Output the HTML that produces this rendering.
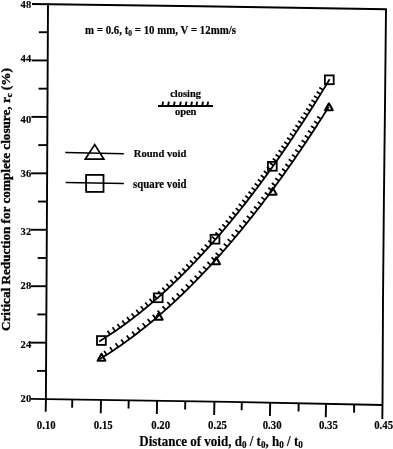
<!DOCTYPE html>
<html><head><meta charset="utf-8"><style>
html,body{margin:0;padding:0;background:#fff;}
svg{display:block;}
</style></head><body>
<svg width="393" height="449" viewBox="0 0 393 449">
<rect width="393" height="449" fill="#fff"/>
<g stroke="#000" stroke-linecap="butt" fill="none">
<path d="M32,4 L200,6.2 L386,9.2 L385,105 L383.9,200 L383,300 L382.5,405 L382.3,419" stroke-width="1.9" stroke-linejoin="miter" fill="none"/>
<path d="M48,3 L47,200 L45.9,399.1 L45.7,411.8" stroke-width="1.9" fill="none"/>
<path d="M31,398.9 L230,401.9 L382.5,405" stroke-width="1.9" fill="none"/>
<line x1="47.85" y1="32.22" x2="38.85" y2="32.22" stroke-width="1.9" />
<line x1="47.70" y1="60.44" x2="31.70" y2="60.44" stroke-width="1.9" />
<line x1="47.55" y1="88.66" x2="38.55" y2="88.66" stroke-width="1.9" />
<line x1="47.40" y1="116.89" x2="31.40" y2="116.89" stroke-width="1.9" />
<line x1="47.25" y1="145.11" x2="38.25" y2="145.11" stroke-width="1.9" />
<line x1="47.10" y1="173.33" x2="31.10" y2="173.33" stroke-width="1.9" />
<line x1="46.95" y1="201.55" x2="37.95" y2="201.55" stroke-width="1.9" />
<line x1="46.80" y1="229.77" x2="30.80" y2="229.77" stroke-width="1.9" />
<line x1="46.65" y1="257.99" x2="37.65" y2="257.99" stroke-width="1.9" />
<line x1="46.50" y1="286.21" x2="30.50" y2="286.21" stroke-width="1.9" />
<line x1="46.35" y1="314.44" x2="37.35" y2="314.44" stroke-width="1.9" />
<line x1="46.20" y1="342.66" x2="30.20" y2="342.66" stroke-width="1.9" />
<line x1="46.05" y1="370.88" x2="37.05" y2="370.88" stroke-width="1.9" />
<line x1="72.30" y1="399.52" x2="72.14" y2="407.72" stroke-width="1.9" />
<line x1="101.00" y1="399.96" x2="100.74" y2="413.26" stroke-width="1.9" />
<line x1="128.70" y1="400.37" x2="128.54" y2="408.57" stroke-width="1.9" />
<line x1="157.10" y1="400.80" x2="156.84" y2="414.10" stroke-width="1.9" />
<line x1="185.30" y1="401.23" x2="185.14" y2="409.43" stroke-width="1.9" />
<line x1="214.40" y1="401.66" x2="214.14" y2="414.96" stroke-width="1.9" />
<line x1="241.80" y1="402.14" x2="241.64" y2="410.34" stroke-width="1.9" />
<line x1="270.20" y1="402.72" x2="269.94" y2="416.02" stroke-width="1.9" />
<line x1="298.70" y1="403.30" x2="298.54" y2="411.50" stroke-width="1.9" />
<line x1="326.00" y1="403.85" x2="325.74" y2="417.15" stroke-width="1.9" />
<line x1="354.20" y1="404.42" x2="354.04" y2="412.62" stroke-width="1.9" />
</g>
<g stroke="#000" fill="none">
<path d="M99.20,341.48 L100.36,340.77 L101.52,340.05 L102.67,339.32 L103.83,338.59 L104.99,337.86 L106.15,337.11 L107.30,336.36 L108.46,335.61 L109.62,334.85 L110.78,334.08 L111.94,333.31 L113.09,332.53 L114.25,331.74 L115.41,330.95 L116.57,330.15 L117.72,329.35 L118.88,328.54 L120.04,327.72 L121.20,326.90 L122.36,326.07 L123.51,325.24 L124.67,324.40 L125.83,323.55 L126.99,322.70 L128.14,321.84 L129.30,320.98 L130.46,320.10 L131.62,319.23 L132.78,318.34 L133.93,317.45 L135.09,316.56 L136.25,315.66 L137.41,314.75 L138.56,313.84 L139.72,312.92 L140.88,311.99 L142.04,311.06 L143.20,310.12 L144.35,309.17 L145.51,308.22 L146.67,307.27 L147.83,306.30 L148.98,305.34 L150.14,304.36 L151.30,303.38 L152.46,302.39 L153.62,301.40 L154.77,300.40 L155.93,299.39 L157.09,298.38 L158.25,297.36 L159.41,296.34 L160.56,295.31 L161.72,294.27 L162.88,293.23 L164.04,292.18 L165.19,291.13 L166.35,290.07 L167.51,289.00 L168.67,287.93 L169.83,286.85 L170.98,285.77 L172.14,284.67 L173.30,283.58 L174.46,282.47 L175.61,281.36 L176.77,280.25 L177.93,279.13 L179.09,278.00 L180.25,276.86 L181.40,275.72 L182.56,274.58 L183.72,273.43 L184.88,272.27 L186.03,271.10 L187.19,269.93 L188.35,268.76 L189.51,267.57 L190.67,266.38 L191.82,265.19 L192.98,263.99 L194.14,262.78 L195.30,261.57 L196.45,260.35 L197.61,259.12 L198.77,257.89 L199.93,256.65 L201.09,255.41 L202.24,254.16 L203.40,252.90 L204.56,251.64 L205.72,250.37 L206.87,249.10 L208.03,247.81 L209.19,246.53 L210.35,245.23 L211.51,243.94 L212.66,242.63 L213.82,241.32 L214.98,240.00 L216.14,238.68 L217.29,237.35 L218.45,236.01 L219.61,234.67 L220.77,233.32 L221.93,231.97 L223.08,230.61 L224.24,229.24 L225.40,227.87 L226.56,226.49 L227.71,225.11 L228.87,223.72 L230.03,222.32 L231.19,220.92 L232.35,219.51 L233.50,218.09 L234.66,216.67 L235.82,215.24 L236.98,213.81 L238.13,212.37 L239.29,210.92 L240.45,209.47 L241.61,208.01 L242.77,206.55 L243.92,205.08 L245.08,203.60 L246.24,202.12 L247.40,200.63 L248.55,199.14 L249.71,197.64 L250.87,196.13 L252.03,194.62 L253.19,193.10 L254.34,191.57 L255.50,190.04 L256.66,188.50 L257.82,186.96 L258.97,185.41 L260.13,183.85 L261.29,182.29 L262.45,180.72 L263.61,179.15 L264.76,177.57 L265.92,175.98 L267.08,174.39 L268.24,172.79 L269.39,171.19 L270.55,169.58 L271.71,167.96 L272.87,166.34 L274.03,164.71 L275.18,163.07 L276.34,161.43 L277.50,159.78 L278.66,158.13 L279.82,156.47 L280.97,154.80 L282.13,153.13 L283.29,151.45 L284.45,149.77 L285.60,148.08 L286.76,146.38 L287.92,144.68 L289.08,142.97 L290.24,141.26 L291.39,139.53 L292.55,137.81 L293.71,136.07 L294.87,134.34 L296.02,132.59 L297.18,130.84 L298.34,129.08 L299.50,127.32 L300.66,125.55 L301.81,123.77 L302.97,121.99 L304.13,120.20 L305.29,118.41 L306.44,116.61 L307.60,114.80 L308.76,112.99 L309.92,111.17 L311.08,109.34 L312.23,107.51 L313.39,105.68 L314.55,103.83 L315.71,101.98 L316.86,100.13 L318.02,98.27 L319.18,96.40 L320.34,94.52 L321.50,92.64 L322.65,90.76 L323.81,88.87 L324.97,86.97 L326.13,85.06 L327.28,83.15 L328.44,81.24 L329.60,79.31" fill="none" stroke-width="1.8"/>
<path d="M110.10,334.53L107.56,330.70M115.16,331.12L112.56,327.33M120.12,327.67L117.46,323.91M124.97,324.18L122.25,320.47M129.76,320.63L127.00,316.96M134.45,317.06L131.63,313.42M139.08,313.43L136.22,309.83M143.60,309.79L140.70,306.22M148.13,306.05L145.18,302.52M152.54,302.32L149.55,298.82M156.85,298.59L153.82,295.13M161.16,294.77L158.09,291.35M165.36,290.97L162.26,287.58M169.51,287.14L166.37,283.78M173.61,283.29L170.43,279.95M177.70,279.35L174.50,276.05M181.68,275.45L178.45,272.17M185.62,271.52L182.35,268.28M189.49,267.59L186.20,264.37M193.32,263.63L190.00,260.45M197.09,259.67L193.75,256.52M200.86,255.65L197.49,252.52M204.52,251.68L201.13,248.57M208.19,247.64L204.77,244.56M211.79,243.61L208.35,240.56M215.35,239.58L211.89,236.55M218.90,235.49L215.42,232.48M222.35,231.47L218.85,228.49M225.80,227.39L222.28,224.44M229.25,223.27L225.71,220.33M232.59,219.21L229.03,216.30M235.93,215.11L232.35,212.22M239.26,210.96L235.67,208.09M242.50,206.89L238.89,204.04M245.78,202.71L242.16,199.88M248.96,198.61L245.32,195.80M252.14,194.47L248.48,191.68M255.26,190.36L251.59,187.59M258.39,186.20L254.70,183.45M261.46,182.07L257.76,179.33M264.53,177.89L260.81,175.18M267.54,173.75L263.82,171.05M270.56,169.57L266.82,166.89M273.52,165.42L269.77,162.75M276.48,161.23L272.72,158.58M279.39,157.07L275.62,154.44M282.30,152.88L278.52,150.27M285.21,148.65L281.41,146.06M288.06,144.46L284.26,141.88M290.87,140.32L287.05,137.75M293.67,136.14L289.84,133.58M296.47,131.92L292.63,129.38M299.21,127.75L295.37,125.23M301.96,123.54L298.11,121.03M304.65,119.39L300.79,116.89M307.40,115.11L303.53,112.63M310.04,110.97L306.16,108.51M312.73,106.72L308.84,104.26M315.37,102.51L311.47,100.08M317.96,98.37L314.05,95.94M320.60,94.10L316.68,91.69M323.18,89.89L319.26,87.49" stroke-width="1.75"/>
<path d="M99.50,359.17 L100.65,358.47 L101.80,357.77 L102.96,357.06 L104.11,356.34 L105.26,355.62 L106.41,354.89 L107.57,354.16 L108.72,353.42 L109.87,352.67 L111.02,351.92 L112.17,351.16 L113.33,350.40 L114.48,349.63 L115.63,348.86 L116.78,348.08 L117.94,347.29 L119.09,346.50 L120.24,345.70 L121.39,344.90 L122.55,344.09 L123.70,343.28 L124.85,342.46 L126.00,341.63 L127.15,340.80 L128.31,339.96 L129.46,339.12 L130.61,338.27 L131.76,337.42 L132.92,336.55 L134.07,335.69 L135.22,334.82 L136.37,333.94 L137.52,333.06 L138.68,332.17 L139.83,331.27 L140.98,330.37 L142.13,329.47 L143.29,328.55 L144.44,327.64 L145.59,326.71 L146.74,325.78 L147.89,324.85 L149.05,323.91 L150.20,322.96 L151.35,322.01 L152.50,321.05 L153.66,320.09 L154.81,319.12 L155.96,318.14 L157.11,317.16 L158.27,316.17 L159.42,315.18 L160.57,314.18 L161.72,313.18 L162.87,312.17 L164.03,311.15 L165.18,310.13 L166.33,309.10 L167.48,308.07 L168.64,307.03 L169.79,305.99 L170.94,304.94 L172.09,303.88 L173.24,302.82 L174.40,301.75 L175.55,300.68 L176.70,299.60 L177.85,298.52 L179.01,297.43 L180.16,296.33 L181.31,295.23 L182.46,294.12 L183.62,293.01 L184.77,291.89 L185.92,290.77 L187.07,289.64 L188.22,288.50 L189.38,287.36 L190.53,286.21 L191.68,285.06 L192.83,283.90 L193.99,282.73 L195.14,281.56 L196.29,280.39 L197.44,279.20 L198.59,278.02 L199.75,276.82 L200.90,275.62 L202.05,274.42 L203.20,273.21 L204.36,271.99 L205.51,270.77 L206.66,269.54 L207.81,268.31 L208.96,267.07 L210.12,265.82 L211.27,264.57 L212.42,263.31 L213.57,262.05 L214.73,260.78 L215.88,259.51 L217.03,258.23 L218.18,256.94 L219.34,255.65 L220.49,254.35 L221.64,253.05 L222.79,251.74 L223.94,250.43 L225.10,249.11 L226.25,247.78 L227.40,246.45 L228.55,245.11 L229.71,243.77 L230.86,242.42 L232.01,241.07 L233.16,239.71 L234.31,238.34 L235.47,236.97 L236.62,235.59 L237.77,234.21 L238.92,232.82 L240.08,231.42 L241.23,230.02 L242.38,228.62 L243.53,227.21 L244.68,225.79 L245.84,224.36 L246.99,222.94 L248.14,221.50 L249.29,220.06 L250.45,218.61 L251.60,217.16 L252.75,215.70 L253.90,214.24 L255.06,212.77 L256.21,211.29 L257.36,209.81 L258.51,208.33 L259.66,206.83 L260.82,205.34 L261.97,203.83 L263.12,202.32 L264.27,200.81 L265.43,199.29 L266.58,197.76 L267.73,196.23 L268.88,194.69 L270.03,193.14 L271.19,191.59 L272.34,190.04 L273.49,188.48 L274.64,186.91 L275.80,185.34 L276.95,183.76 L278.10,182.17 L279.25,180.58 L280.41,178.99 L281.56,177.39 L282.71,175.78 L283.86,174.17 L285.01,172.55 L286.17,170.92 L287.32,169.29 L288.47,167.66 L289.62,166.01 L290.78,164.37 L291.93,162.71 L293.08,161.05 L294.23,159.39 L295.38,157.72 L296.54,156.04 L297.69,154.36 L298.84,152.67 L299.99,150.98 L301.15,149.28 L302.30,147.57 L303.45,145.86 L304.60,144.15 L305.75,142.42 L306.91,140.70 L308.06,138.96 L309.21,137.22 L310.36,135.48 L311.52,133.73 L312.67,131.97 L313.82,130.21 L314.97,128.44 L316.13,126.66 L317.28,124.88 L318.43,123.10 L319.58,121.31 L320.73,119.51 L321.89,117.71 L323.04,115.90 L324.19,114.09 L325.34,112.27 L326.50,110.44 L327.65,108.61 L328.80,106.77" fill="none" stroke-width="1.8"/>
<path d="M106.60,354.77L104.13,350.89M112.50,350.95L109.96,347.11M118.23,347.09L115.63,343.29M123.86,343.16L121.20,339.41M129.44,339.14L126.71,335.43M134.85,335.10L132.07,331.43M140.20,330.98L137.37,327.35M145.45,326.82L142.57,323.24M150.59,322.63L147.67,319.09M155.68,318.38L152.71,314.87M160.66,314.10L157.64,310.63M165.58,309.77L162.52,306.34M170.40,305.43L167.30,302.03M175.16,301.04L172.03,297.68M179.87,296.61L176.70,293.28M184.47,292.18L181.26,288.88M189.01,287.72L185.78,284.45M193.51,283.22L190.24,279.98M197.89,278.74L194.59,275.54M202.27,274.19L198.94,271.01M206.55,269.66L203.19,266.52M210.77,265.11L207.38,262.00M214.99,260.49L211.58,257.40M219.10,255.91L215.67,252.85M223.16,251.32L219.70,248.29M227.22,246.66L223.74,243.65M231.17,242.06L227.67,239.07M235.12,237.38L231.60,234.43M238.96,232.77L235.42,229.84M242.80,228.10L239.24,225.19M246.59,223.43L243.01,220.54M250.38,218.70L246.78,215.83M254.06,214.04L250.44,211.20M257.74,209.32L254.10,206.51M261.36,204.62L257.71,201.82M264.99,199.86L261.32,197.08M268.51,195.19L264.83,192.43M272.03,190.46L268.33,187.73M275.54,185.68L271.83,182.97M279.01,180.92L275.28,178.23M282.41,176.19L278.68,173.51M285.77,171.48L282.02,168.82M289.12,166.72L285.36,164.08M292.48,161.92L288.70,159.29M295.73,157.22L291.94,154.61M299.03,152.40L295.23,149.81M302.22,147.69L298.41,145.12M305.47,142.85L301.64,140.30M308.61,138.14L304.77,135.60M311.80,133.30L307.95,130.77M314.88,128.58L311.03,126.07M318.02,123.73L314.16,121.24M321.05,119.01L317.18,116.54" stroke-width="1.75"/>
<rect x="97.00" y="336.10" width="8.8" height="8.8" fill="none" stroke-width="1.8"/>
<rect x="153.80" y="293.40" width="8.8" height="8.8" fill="none" stroke-width="1.8"/>
<rect x="210.60" y="234.80" width="8.8" height="8.8" fill="none" stroke-width="1.8"/>
<rect x="267.90" y="161.90" width="8.8" height="8.8" fill="none" stroke-width="1.8"/>
<rect x="324.90" y="75.40" width="8.8" height="8.8" fill="none" stroke-width="1.8"/>
<path d="M101.50,353.85L105.40,360.75L97.60,360.75Z" fill="none" stroke-width="2.0" stroke-linejoin="round"/>
<path d="M158.80,312.75L162.70,319.65L154.90,319.65Z" fill="none" stroke-width="2.0" stroke-linejoin="round"/>
<path d="M216.20,257.25L220.10,264.15L212.30,264.15Z" fill="none" stroke-width="2.0" stroke-linejoin="round"/>
<path d="M272.80,187.75L276.70,194.65L268.90,194.65Z" fill="none" stroke-width="2.0" stroke-linejoin="round"/>
<path d="M328.90,103.35L332.80,110.25L325.00,110.25Z" fill="none" stroke-width="2.0" stroke-linejoin="round"/>
</g>
<g stroke="#000" fill="none">
<line x1="65.3" y1="152.4" x2="123.8" y2="153.8" stroke-width="1.5"/>
<path d="M94.7,144.6L103.8,159.0L85.3,159.0Z" fill="none" stroke-width="1.75"/>
<line x1="65.7" y1="182.4" x2="123.8" y2="183.6" stroke-width="1.5"/>
<rect x="86.1" y="174.9" width="17.4" height="17.0" fill="none" stroke-width="1.8"/>
<line x1="158" y1="106" x2="213" y2="106" stroke-width="1.8"/>
<path d="M162.30,105.6L163.10,101.6M168.10,105.6L168.90,101.6M173.90,105.6L174.70,101.6M180.00,105.6L180.80,101.6M185.70,105.6L186.50,101.6M191.20,105.6L192.00,101.6M196.40,105.6L197.20,101.6M202.20,105.6L203.00,101.6M207.40,105.6L208.20,101.6" stroke-width="1.9"/>
</g>
<g font-family="Liberation Serif, serif" font-weight="bold" stroke="#000" stroke-width="0.15" fill="#000">
<text transform="translate(31.20,7.75) scale(1,1.06)" font-size="10.6" text-anchor="end">48</text>
<text transform="translate(31.20,62.25) scale(1,1.06)" font-size="10.6" text-anchor="end">44</text>
<text transform="translate(31.20,122.55) scale(1,1.06)" font-size="10.6" text-anchor="end">40</text>
<text transform="translate(31.20,176.75) scale(1,1.06)" font-size="10.6" text-anchor="end">36</text>
<text transform="translate(31.20,235.35) scale(1,1.06)" font-size="10.6" text-anchor="end">32</text>
<text transform="translate(31.20,289.45) scale(1,1.06)" font-size="10.6" text-anchor="end">28</text>
<text transform="translate(31.20,347.95) scale(1,1.06)" font-size="10.6" text-anchor="end">24</text>
<text transform="translate(31.20,402.15) scale(1,1.06)" font-size="10.6" text-anchor="end">20</text>
<text transform="translate(46.30,428.60) scale(1,1.06)" font-size="10.8" text-anchor="middle">0.10</text>
<text transform="translate(103.30,428.60) scale(1,1.06)" font-size="10.8" text-anchor="middle">0.15</text>
<text transform="translate(160.70,428.60) scale(1,1.06)" font-size="10.8" text-anchor="middle">0.20</text>
<text transform="translate(217.50,428.60) scale(1,1.06)" font-size="10.8" text-anchor="middle">0.25</text>
<text transform="translate(272.10,428.60) scale(1,1.06)" font-size="10.8" text-anchor="middle">0.30</text>
<text transform="translate(328.40,428.60) scale(1,1.06)" font-size="10.8" text-anchor="middle">0.35</text>
<text transform="translate(383.60,428.60) scale(1,1.06)" font-size="10.8" text-anchor="middle">0.45</text>
<text transform="translate(85.00,33.70) scale(1,1.06)" font-size="10.85" textLength="151" lengthAdjust="spacingAndGlyphs">m = 0.6, t<tspan font-size="7.5" dy="2">0</tspan><tspan dy="-2"> = 10 mm, V = 12mm/s</tspan></text>
<text transform="translate(170.20,96.90) scale(1,1.06)" font-size="10.5">closing</text>
<text transform="translate(174.90,114.70) scale(1,1.06)" font-size="10.5">open</text>
<text transform="translate(133.80,156.60) scale(1,1.06)" font-size="10.6">Round void</text>
<text transform="translate(133.10,188.40) scale(1,1.06)" font-size="10.8">square void</text>
<text transform="translate(139.30,445.90) scale(1,1.06)" font-size="12.9" textLength="163.5" lengthAdjust="spacingAndGlyphs">Distance of void, d<tspan font-size="9" dy="2">0</tspan><tspan dy="-2"> / t</tspan><tspan font-size="9" dy="2">0</tspan><tspan dy="-2">, h</tspan><tspan font-size="9" dy="2">0</tspan><tspan dy="-2"> / t</tspan><tspan font-size="9" dy="2">0</tspan></text>
<text transform="translate(9.9,331.0) rotate(-90)" x="0" y="0" font-size="13.3" stroke-width="0.38" textLength="262.8" lengthAdjust="spacingAndGlyphs">Critical Reduction for complete closure, r<tspan font-size="8.6" dy="2">c</tspan><tspan dy="-2"> (%)</tspan></text>
</g>
</svg>
</body></html>
